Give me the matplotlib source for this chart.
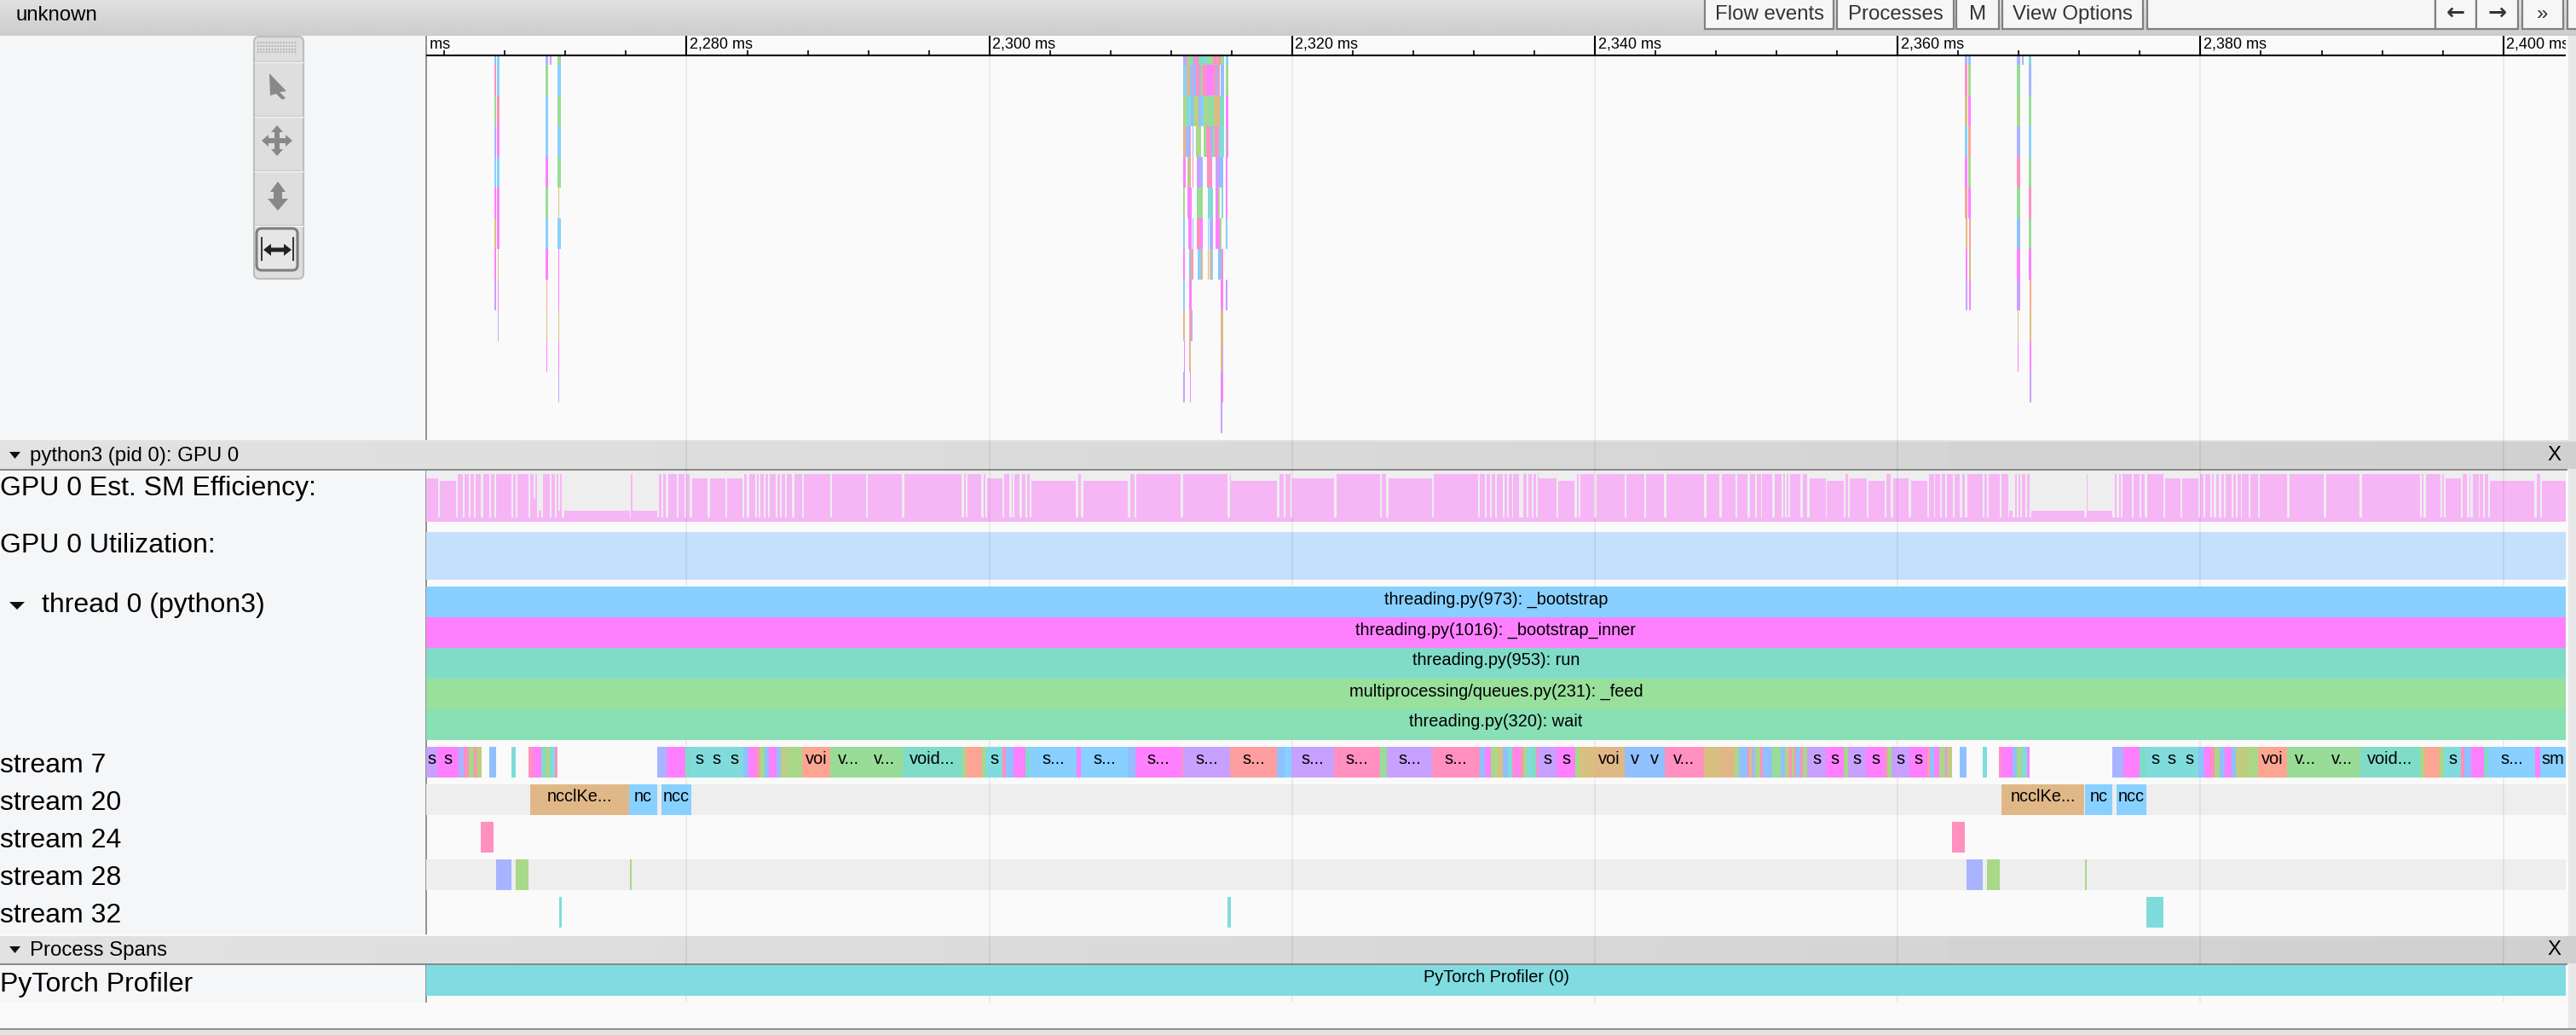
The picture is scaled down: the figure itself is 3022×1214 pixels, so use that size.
import numpy as np
import matplotlib
matplotlib.use('Agg')
import matplotlib.pyplot as plt
from matplotlib.patches import Rectangle, Polygon, FancyBboxPatch

plt.rcParams['font.family'] = ['Liberation Sans', 'DejaVu Sans']

# Time window shown, ms
t_min = 2262.80
t_max = 2404.13
grid_times = [2280, 2300, 2320, 2340, 2360, 2380, 2400]
ruler_times = [2260, 2280, 2300, 2320, 2340, 2360, 2380, 2400]
ruler_labels = ['2,260 ms', '2,280 ms', '2,300 ms', '2,320 ms', '2,340 ms', '2,360 ms', '2,380 ms', '2,400 ms']

palette = {'p': '#c8a0ff', 'm': '#ff80ff', 'b': '#88d0ff', 'l': '#90c0ff', 'v': '#a8b4ff',
           't': '#80dcdc', 'q': '#80dcc8', 'g': '#98dc98', 'y': '#a8d888', 'k': '#d8c080',
           'n': '#e0b888', 'r': '#ff90c0', 's': '#fca592', 'o': '#ff9ea0', 'h': '#c0cc80',
           'd': '#88e0b4', 'e': '#98e09c', 'z': '#80dce0'}

# GPU 0 Est. SM Efficiency
eff_start = [2262.80, 2263.70, 2264.90, 2265.35, 2265.73, 2266.07, 2266.55, 2267.08, 2267.40, 2268.54, 2268.84,
             2269.67, 2269.89, 2270.01, 2270.23, 2270.53, 2271.08, 2271.41, 2271.53, 2271.64, 2271.90, 2276.31,
             2276.44, 2278.19, 2278.45, 2278.79, 2279.47, 2279.99, 2280.35, 2281.53, 2282.68, 2283.80, 2284.12,
             2284.63, 2284.89, 2285.21, 2285.49, 2286.00, 2286.28, 2286.60, 2287.11, 2287.74, 2289.62, 2291.99,
             2294.36, 2298.31, 2298.56, 2299.60, 2299.85, 2301.00, 2301.47, 2301.65, 2302.15, 2302.51, 2302.80,
             2305.89, 2306.21, 2309.30, 2309.69, 2312.78, 2315.87, 2315.98, 2319.17, 2319.57, 2320.00, 2322.94,
             2325.92, 2326.35, 2329.37, 2332.42, 2332.85, 2333.21, 2333.54, 2334.04, 2334.33, 2334.61, 2335.26,
             2335.58, 2335.94, 2336.23, 2336.30, 2337.56, 2338.81, 2339.06, 2340.11, 2342.08, 2343.37, 2344.70,
             2347.37, 2348.36, 2349.39, 2350.23, 2350.71, 2351.04, 2351.85, 2352.44, 2352.69, 2352.91, 2353.72,
             2354.16, 2355.34, 2356.55, 2356.84, 2358.05, 2359.26, 2359.70, 2360.88, 2362.09, 2362.49, 2362.94,
             2363.27, 2363.74, 2364.26, 2364.59, 2365.73, 2366.02, 2366.83, 2367.38, 2367.74, 2367.96, 2368.22,
             2368.52, 2368.81, 2372.48, 2372.55, 2374.32, 2374.61, 2374.87, 2375.60, 2376.11, 2376.48, 2377.66,
             2378.79, 2379.97, 2380.34, 2380.78, 2381.07, 2381.36, 2381.66, 2382.17, 2382.43, 2382.76, 2383.27,
             2383.93, 2385.88, 2388.30, 2390.65, 2394.62, 2394.87, 2395.97, 2396.19, 2397.33, 2397.74, 2397.99,
             2398.47, 2398.80, 2399.13, 2402.21, 2402.58]
eff_end = [2263.57, 2264.79, 2265.24, 2265.62, 2265.95, 2266.42, 2266.97, 2267.29, 2268.43, 2268.71, 2269.54,
           2269.89, 2270.01, 2270.12, 2270.40, 2270.96, 2271.30, 2271.53, 2271.64, 2271.75, 2276.24, 2276.44,
           2278.08, 2278.34, 2278.64, 2279.35, 2279.86, 2280.22, 2281.40, 2282.54, 2283.69, 2283.97, 2284.52,
           2284.78, 2285.10, 2285.38, 2285.89, 2286.17, 2286.49, 2286.97, 2287.63, 2289.47, 2291.84, 2294.22,
           2298.17, 2298.45, 2299.46, 2299.75, 2300.86, 2301.29, 2301.54, 2302.01, 2302.37, 2302.66, 2305.71,
           2306.07, 2309.15, 2309.59, 2312.64, 2315.73, 2315.98, 2319.00, 2319.42, 2319.89, 2322.76, 2325.78,
           2326.21, 2329.23, 2332.28, 2332.71, 2333.07, 2333.43, 2333.89, 2334.22, 2334.51, 2334.97, 2335.48,
           2335.83, 2336.12, 2336.30, 2337.45, 2338.67, 2338.92, 2339.96, 2341.97, 2343.27, 2344.56, 2347.18,
           2348.21, 2349.28, 2350.09, 2350.56, 2350.97, 2351.70, 2352.33, 2352.58, 2352.80, 2353.57, 2354.01,
           2355.23, 2356.44, 2356.73, 2357.94, 2359.15, 2359.56, 2360.73, 2361.94, 2362.38, 2362.79, 2363.16,
           2363.63, 2364.11, 2364.44, 2365.62, 2365.91, 2366.72, 2367.30, 2367.56, 2367.85, 2368.11, 2368.41,
           2368.70, 2372.33, 2372.55, 2374.17, 2374.46, 2374.76, 2375.49, 2375.97, 2376.33, 2377.55, 2378.68,
           2379.86, 2380.19, 2380.67, 2380.89, 2381.22, 2381.55, 2382.06, 2382.32, 2382.65, 2383.16, 2383.82,
           2385.73, 2388.16, 2390.50, 2394.51, 2394.73, 2395.83, 2396.08, 2397.22, 2397.62, 2397.85, 2398.36,
           2398.65, 2399.02, 2402.07, 2402.44, 2404.16]
eff_val = [.91, .856, 1, 1, 1, 1, 1, 1, 1, 1, 1,
           1, .48, 1, .23, 1, 1, 1, .23, 1, .23, 1,
           .23, 1, 1, 1, 1, 1, .91, .91, .91, 1, 1,
           1, 1, 1, 1, 1, 1, 1, 1, 1, 1, 1,
           1, 1, 1, 1, .91, 1, 1, 1, 1, 1, .856,
           1, .856, 1, 1, 1, 1, .856, 1, 1, .91, 1,
           1, .91, 1, 1, 1, 1, 1, 1, 1, 1, 1,
           1, 1, 1, .91, .856, 1, 1, 1, 1, 1, 1,
           1, 1, 1, 1, 1, 1, 1, 1, 1, 1, 1,
           .91, .856, 1, .91, .856, 1, .91, .856, 1, 1, 1,
           1, 1, 1, 1, 1, 1, 1, .23, 1, 1, 1,
           1, .23, 1, .23, 1, 1, 1, 1, 1, 1, .91,
           .91, 1, 1, 1, 1, 1, 1, 1, 1, 1, 1,
           1, 1, 1, 1, 1, 1, 1, .91, 1, 1, 1,
           1, 1, .856, 1, .856]

# thread 0 (python3) call stack
thread_names = ['threading.py(973): _bootstrap', 'threading.py(1016): _bootstrap_inner', 'threading.py(953): run',
                'multiprocessing/queues.py(231): _feed', 'threading.py(320): wait']
thread_kinds = 'bmqed'

# stream 7: slice edges, '.' is an empty stretch
s7_edges = [2262.80, 2263.55, 2264.92, 2265.28, 2265.60, 2265.96, 2266.10, 2266.46, 2266.97, 2267.40, 2268.44, 2268.72,
            2269.55, 2269.87, 2270.41, 2270.66, 2270.99, 2271.31, 2271.45, 2278.06, 2278.67, 2279.89, 2280.25, 2281.40,
            2282.51, 2283.77, 2284.09, 2284.52, 2284.81, 2285.13, 2285.46, 2285.92, 2286.21, 2286.61, 2287.00, 2287.65,
            2289.51, 2291.88, 2294.25, 2298.20, 2298.45, 2299.50, 2299.75, 2300.86, 2301.08, 2301.58, 2302.01, 2302.37,
            2302.69, 2305.74, 2306.07, 2309.16, 2309.62, 2312.67, 2312.82, 2315.91, 2319.00, 2319.50, 2319.93, 2322.76,
            2325.82, 2326.25, 2329.23, 2332.39, 2332.75, 2333.10, 2333.57, 2333.89, 2334.25, 2334.54, 2334.68, 2334.97,
            2335.26, 2335.51, 2335.80, 2336.12, 2336.23, 2337.48, 2338.71, 2338.96, 2339.96, 2341.97, 2343.30, 2344.59,
            2347.18, 2348.24, 2349.25, 2349.51, 2350.08, 2350.17, 2350.36, 2350.60, 2350.94, 2351.09, 2351.69, 2352.29,
            2352.55, 2352.70, 2352.83, 2352.98, 2353.15, 2353.30, 2353.59, 2353.75, 2354.04, 2355.24, 2356.46, 2356.72,
            2357.92, 2359.16, 2359.29, 2359.59, 2360.75, 2361.97, 2362.12, 2362.43, 2362.76, 2363.12, 2363.25, 2363.59,
            2364.11, 2364.55, 2365.62, 2365.91, 2366.68, 2366.83, 2367.60, 2367.85, 2368.22, 2368.55, 2368.74, 2374.17,
            2374.90, 2375.97, 2376.44, 2377.55, 2378.65, 2379.86, 2380.23, 2380.67, 2380.92, 2381.25, 2381.58, 2382.06,
            2382.32, 2382.76, 2383.16, 2383.79, 2385.73, 2388.16, 2390.54, 2394.51, 2394.76, 2395.79, 2396.08, 2397.22,
            2397.44, 2397.88, 2398.40, 2398.73, 2399.02, 2402.10, 2402.44, 2404.16]
s7_kinds = ('pmvryrh.l.t.'
            'rmqytr.vmqtt'
            'tlmrylmlhyys'
            'ggqysyt' 'rlmmq'
            'bmblmrpolbpr'
            'gprlmykltrmr'
            'ytqrpmyknllr'
            'knylrkvyrlgl'
            'ykryrlrypmyp'
            'mrypmolmymh.'
            'l.t.rmlytm.v'
            'mqtttlmrylml'
            'hhysggqysytr'
            'lmmqbmb')
s7_label_start = [2262.80, 2263.55, 2280.25, 2281.40, 2282.51, 2287.65, 2289.51, 2291.88, 2294.25, 2299.75, 2302.69,
                  2306.07, 2309.62, 2312.82, 2315.91, 2319.93, 2322.76, 2326.25, 2329.23, 2336.23, 2337.48, 2339.96,
                  2341.97, 2343.30, 2344.59, 2354.04, 2355.24, 2356.72, 2357.92, 2359.59, 2360.75, 2376.44, 2377.55,
                  2378.65, 2383.79, 2385.73, 2388.16, 2390.54, 2396.08, 2399.02, 2402.44]
s7_label_text = ['s', 's', 's', 's', 's', 'voi', 'v...', 'v...', 'void...', 's', 's...',
                 's...', 's...', 's...', 's...', 's...', 's...', 's...', 's...', 's', 's', 'voi',
                 'v', 'v', 'v...', 's', 's', 's', 's', 's', 's', 's', 's',
                 's', 'voi', 'v...', 'v...', 'void...', 's', 's...', 'sm']

# streams 20, 24, 28, 32
s20_start = [2269.66, 2276.19, 2278.35, 2366.83, 2372.37, 2374.46]
s20_end = [2276.19, 2278.06, 2280.32, 2372.33, 2374.17, 2376.44]
s20_kinds = 'nbbnbb'
s20_text = ['ncclKe...', 'nc', 'ncc', 'ncclKe...', 'nc', 'ncc']
s24_start = [2266.43, 2363.60]
s24_end = [2267.25, 2364.44]
s24_kinds = 'rr'
s28_start = [2267.40, 2268.72, 2276.26, 2364.55, 2365.87, 2372.37]
s28_end = [2268.44, 2269.55, 2276.37, 2365.62, 2366.72, 2372.48]
s28_kinds = 'vyyvyy'
s32_start = [2271.60, 2315.73, 2376.41]
s32_end = [2271.74, 2315.94, 2377.55]
s32_kinds = 'ttt'

stream_names = ['stream 7', 'stream 20', 'stream 24', 'stream 28', 'stream 32']

# Flame chart at the top: columns of one width, one letter per depth, '.' skips a depth
col_start = [2267.29, 2267.50, 2270.66, 2270.95, 2271.45, 2267.32, 2267.54, 2270.72, 2271.50,
             2364.45, 2364.66, 2367.85, 2368.20, 2368.68, 2364.50, 2364.72, 2367.90, 2368.72]
col_end = [2267.43, 2267.65, 2270.88, 2271.10, 2271.67, 2267.39, 2267.60, 2270.80, 2271.58,
           2364.63, 2364.84, 2368.09, 2368.32, 2368.85, 2364.60, 2364.80, 2368.00, 2368.80]
col_kinds = ['lrgvbm', 'bbrmbmm', 'vgbbmgbm', 'p', 'gbgbg.b',
             '......kmp', '.......kmp', '........skm', '.....k.mmkmp',
             'vrkbmo', 'lymsym', 'vgyvrglmp', 'v', 'tvgbgrgm',
             '......nmp', '......onm', '.........km', '........skmp']

# Dense burst in the middle of the flame chart, depth by depth
mid_depth = [0] * 13 + [1] * 15 + [2] * 14 + [3] * 13 + [4] * 10 + [5] * 10 + [6] * 11 + [7] * 11 + [8] * 4 + [9] * 4 \
    + [10] * 4 + [11] * 4 + [12]
mid_start = [2312.80, 2313.03, 2313.10, 2313.44, 2313.55, 2313.81, 2314.23, 2314.38, 2314.75, 2314.98, 2315.09, 2315.28, 2315.63,
             2312.80, 2313.03, 2313.25, 2313.40, 2313.48, 2313.66, 2313.85, 2314.00, 2314.08, 2314.34, 2314.75, 2314.94, 2315.05, 2315.28, 2315.63,
             2312.80, 2313.03, 2313.33, 2313.48, 2313.70, 2313.81, 2314.00, 2314.15, 2314.38, 2314.75, 2314.83, 2315.02, 2315.24, 2315.63,
             2312.80, 2312.95, 2313.25, 2313.40, 2313.66, 2314.15, 2314.34, 2314.60, 2314.75, 2314.86, 2315.17, 2315.63, 2315.70,
             2312.82, 2313.08, 2313.18, 2313.42, 2313.70, 2313.96, 2314.38, 2314.94, 2315.20, 2315.62,
             2312.82, 2313.08, 2313.70, 2314.04, 2314.41, 2314.51, 2314.96, 2315.13, 2315.32, 2315.62,
             2312.82, 2313.14, 2313.42, 2313.70, 2313.93, 2314.41, 2314.56, 2314.66, 2314.94, 2315.24, 2315.62,
             2312.82, 2313.18, 2313.33, 2313.42, 2313.76, 2313.98, 2314.41, 2314.56, 2314.68, 2315.11, 2315.32,
             2312.82, 2313.18, 2315.30, 2315.63,
             2312.82, 2313.18, 2313.33, 2315.30,
             2312.84, 2313.19, 2315.30, 2315.37,
             2312.82, 2313.23, 2315.30, 2315.35,
             2315.30]
mid_end = [2313.03, 2313.10, 2313.44, 2313.55, 2313.81, 2314.23, 2314.38, 2314.75, 2314.98, 2315.09, 2315.28, 2315.50, 2315.78,
           2313.03, 2313.25, 2313.40, 2313.48, 2313.66, 2313.85, 2314.00, 2314.08, 2314.34, 2314.75, 2314.94, 2315.05, 2315.24, 2315.50, 2315.78,
           2313.03, 2313.33, 2313.48, 2313.70, 2313.81, 2314.00, 2314.15, 2314.38, 2314.75, 2314.83, 2315.02, 2315.24, 2315.50, 2315.78,
           2312.95, 2313.25, 2313.33, 2313.48, 2314.00, 2314.34, 2314.60, 2314.75, 2314.86, 2315.17, 2315.50, 2315.70, 2315.78,
           2312.97, 2313.18, 2313.33, 2313.48, 2313.96, 2314.08, 2314.71, 2315.20, 2315.47, 2315.73,
           2312.93, 2313.36, 2314.04, 2314.08, 2314.51, 2314.75, 2315.13, 2315.24, 2315.47, 2315.73,
           2312.93, 2313.38, 2313.48, 2313.93, 2314.08, 2314.51, 2314.64, 2314.75, 2315.20, 2315.35, 2315.73,
           2312.91, 2313.33, 2313.40, 2313.48, 2313.98, 2314.08, 2314.51, 2314.64, 2314.75, 2315.32, 2315.45,
           2312.91, 2313.36, 2315.43, 2315.71,
           2312.91, 2313.33, 2313.40, 2315.45,
           2312.89, 2313.29, 2315.37, 2315.47,
           2312.89, 2313.29, 2315.35, 2315.45,
           2315.37]
mid_kinds = ('pnglrqtgrsrgb'
             'bnlrlrlkrmrlrly'
             'ytlyklbygtknqm'
             'nvrlygrvgrtgm'
             'mysrplrplm'
             'ymgybqmytm'
             'bmlrmblpmyb'
             'mlsrbnnnblr'
             'bmmp'
             'nspn'
             'mnkp'
             'pmpm'
             'p')


fig = plt.figure(figsize=(30.22, 12.14), dpi=100, facecolor='#fafafa')

# Chrome axes, in picture pixels
ui = fig.add_axes([0, 0, 1, 1], zorder=1)
ui.axis('off')


def hgrad(y0, y1, a, b):
    ui.imshow(np.linspace(a, b, 256).reshape(1, -1), cmap='gray', vmin=0, vmax=1, aspect='auto',
              extent=(0, 3022, y1, y0), interpolation='bilinear', zorder=1)


def label(x, y, s, size=23.04, **kw):
    ui.text(x, y, s, fontsize=size, va='center', ha=kw.pop('ha', 'left'), color=kw.pop('color', '#000000'), zorder=6, **kw)


# top bar
ui.imshow(np.linspace(0.88, 0.80, 64).reshape(-1, 1), cmap='gray', vmin=0, vmax=1, aspect='auto',
          extent=(0, 3022, 42, 0), zorder=1)
# left panels
for y0, y1 in [(42, 516), (552, 1096), (1132, 1176)]:
    ui.add_patch(Rectangle((0, y0), 499, y1 - y0, fc='#f5f6f8', ec='none', zorder=1))
    ui.vlines(499.5, y0, y1, color='#8a8a8a', lw=1.3, zorder=2)
ui.add_patch(Rectangle((0, 516), 3022, 2, fc='#e4e4e4', ec='none', zorder=1))
ui.add_patch(Rectangle((3013, 42), 9, 1172, fc='#e8e8e8', ec='none', zorder=1))
hgrad(518, 550, 0.885, 0.815)
hgrad(1098, 1130, 0.885, 0.815)
ui.add_patch(Rectangle((0, 550), 3012, 2, fc='#8a8a8a', ec='none', zorder=2))
ui.add_patch(Rectangle((0, 1130), 3012, 2, fc='#8a8a8a', ec='none', zorder=2))
ui.add_patch(Rectangle((0, 1206), 3022, 2, fc='#909090', ec='none', zorder=2))
ui.add_patch(Rectangle((0, 1208), 3022, 6, fc='#e2e2e2', ec='none', zorder=2))

# buttons
btn_x0 = [2000, 2155, 2295, 2349, 2519, 2857, 2905, 2959, 3012]
btn_x1 = [2151, 2292, 2345, 2514, 2857, 2905, 2954, 3007, 3030]
btn_text = ['Flow events', 'Processes', 'M', 'View Options', '', '\u2190', '\u2192', '\u00bb', '']
for x0, x1, s in zip(btn_x0, btn_x1, btn_text):
    ui.add_patch(Rectangle((x0, -4), x1 - x0, 38, fc='#f6f6f6', ec='#808080', lw=1.6, zorder=3))
    if s in ('\u2190', '\u2192'):
        label((x0 + x1) / 2, 16, s, size=19, ha='center', color='#333333', family='DejaVu Sans', fontweight='bold')
    elif s:
        label((x0 + x1) / 2, 17, s, size=17.3, ha='center', color='#333333')

label(18, 17.5, 'unknown', size=17.3)

# left labels
label(0, 573.5, 'GPU 0 Est. SM Efficiency:')
label(0, 640, 'GPU 0 Utilization:')
label(49, 710, 'thread 0 (python3)')
for i, name in enumerate(stream_names):
    label(0, 898 + 44 * i, name)
label(0, 1155, 'PyTorch Profiler')
label(35, 534.5, 'python3 (pid 0): GPU 0', size=17.3)
label(35, 1114.5, 'Process Spans', size=17.3)
label(2996, 534.5, 'X', size=17.3, ha='center')
label(2996, 1114.5, 'X', size=17.3, ha='center')
for pts in [[(11, 530), (24, 530), (17.5, 538)], [(11, 1110), (24, 1110), (17.5, 1118)], [(11, 706), (29, 706), (20, 715)]]:
    ui.add_patch(Polygon(pts, fc='#111111', ec='none', zorder=5))

# tool palette
ui.add_patch(FancyBboxPatch((298, 43), 58, 284, boxstyle='round,pad=0,rounding_size=6', fc='#dedede', ec='#bdbdbd', lw=1.5, zorder=3))
for y in [71.5, 135.5, 199.5, 263.5]:
    ui.hlines(y, 298, 356, color='#c2c2c2', lw=1, zorder=4)
    ui.hlines(y + 1.5, 298, 356, color='#f6f6f6', lw=1, zorder=4)
for y in [50, 54, 58, 61]:
    ui.hlines(y, 302, 349, color='#aaaaaa', lw=1.2, linestyles=(0, (1, 1)), zorder=4)
ui.add_patch(Polygon([(316, 86), (336, 107), (328, 108), (335, 115), (331, 117), (324, 110), (317, 112)],
                     fc='#888888', ec='none', zorder=4))


def icon(pts, c):
    ui.add_patch(Polygon(pts, fc=c, ec='none', zorder=5))


# four way arrow
cx, cy = 325, 165
for sx, sy in [(1, 0), (-1, 0), (0, 1), (0, -1)]:
    px, py = -sy, sx
    arm = [(0, -3), (10, -3), (10, -7), (18, 0), (10, 7), (10, 3), (0, 3)]
    icon([(cx + a * sx + b * px, cy + a * sy + b * py) for a, b in arm], '#888888')
# up and down arrow
icon([(326, 213), (335, 225), (331, 225), (331, 233), (338, 233), (326, 247), (314, 233), (321, 233), (321, 225), (317, 225)], '#888888')
ui.add_patch(FancyBboxPatch((301, 268), 48, 49, boxstyle='round,pad=0,rounding_size=6', fc='#e6e6e6', ec='#7f7f7f', lw=2.2, zorder=4))
ui.vlines([307, 344], 278, 306, color='#333333', lw=1.4, zorder=5)
icon([(309, 293), (318, 286), (318, 290.5), (333, 290.5), (333, 286), (342, 293), (333, 300), (333, 295.5), (318, 295.5), (318, 300)], '#222222')

ui.set_xlim(0, 3022)
ui.set_ylim(1214, 0)

# Timeline axes, x in ms, y in picture pixels
ax = fig.add_axes([500 / 3022, 0, 2510 / 3022, 1], zorder=2)
ax.axis('off')
ax.set_xlim(t_min, t_max)
ax.set_ylim(1214, 0)


def slices(starts, ends, kinds, y0, y1, zorder=4):
    starts = np.array(starts)
    ends = np.array(ends)
    ax.bar(starts, y1 - y0, ends - starts, bottom=y0, align='edge', linewidth=0, zorder=zorder,
           color=[palette[k] for k in kinds])


def slice_text(t, y, s):
    ax.text(t, y, s, fontsize=14.4, ha='center', va='center', clip_on=True, zorder=5)


# ruler
ax.hlines(65, t_min, t_max, color='black', lw=1.5, zorder=6)
ax.vlines(ruler_times, 42, 65, color='black', lw=1.5, zorder=6)
minor = [t for t in np.arange(2264, 2404, 4) if t % 20 != 0]
ax.vlines(minor, 59, 65, color='black', lw=1.2, zorder=6)
for t, s in zip(ruler_times, ruler_labels):
    ax.text(t + 0.2, 52, s, fontsize=13, ha='left', va='center', clip_on=True, zorder=6)

# bands and counters
ax.axhspan(552, 607.7, color='#eeeeee', lw=0, zorder=1)
ax.axhspan(920, 956, color='#eeeeee', lw=0, zorder=1)
ax.axhspan(1008, 1044, color='#eeeeee', lw=0, zorder=1)
ax.axhspan(607.4, 611.7, color='#f6b6f6', lw=0, zorder=2)
eff_start = np.array(eff_start)
ax.bar(eff_start, -55.7 * np.array(eff_val), np.array(eff_end) - eff_start, bottom=611.7, align='edge',
       color='#f6b6f6', linewidth=0, zorder=2)
ax.axhspan(624, 680, color='#c4e0fc', lw=0, zorder=2)

# grid
ax.vlines(grid_times, 66, 518, color='#000000', alpha=0.07, lw=1.2, zorder=3)
ax.vlines(grid_times, 518, 1176, color='#000000', alpha=0.07, lw=1.2, zorder=3)

# flame chart
row_y0 = [66] + [76 + 36 * i for i in range(12)]
row_y1 = [76] + [112 + 36 * i for i in range(12)]
for a, b, kinds in zip(col_start, col_end, col_kinds):
    for depth, k in enumerate(kinds):
        if k != '.':
            slices([a], [b], k, row_y0[depth], row_y1[depth])
for d, a, b, k in zip(mid_depth, mid_start, mid_end, mid_kinds):
    slices([a], [b], k, row_y0[d], row_y1[d])

# thread rows
for i, (name, k) in enumerate(zip(thread_names, thread_kinds)):
    y0 = 688 + 36 * i
    slices([t_min], [t_max], k, y0, y0 + 36)
    slice_text((t_min + t_max) / 2, y0 + 15, name)

# stream 7
for a, b, k in zip(s7_edges[:-1], s7_edges[1:], s7_kinds):
    if k != '.':
        slices([a], [b], k, 876, 912)
for t, s in zip(s7_label_start, s7_label_text):
    i = s7_edges.index(t)
    slice_text((s7_edges[i] + s7_edges[i + 1]) / 2, 891, s)

# other streams
slices(s20_start, s20_end, s20_kinds, 920, 956)
for a, b, s in zip(s20_start, s20_end, s20_text):
    slice_text((a + b) / 2, 935, s)
slices(s24_start, s24_end, s24_kinds, 964, 1000)
slices(s28_start, s28_end, s28_kinds, 1008, 1044)
slices(s32_start, s32_end, s32_kinds, 1052, 1088)

# process span
slices([t_min], [t_max], 'z', 1132, 1168)
slice_text((t_min + t_max) / 2, 1147, 'PyTorch Profiler (0)')

fig.savefig('out.png', dpi=100, facecolor=fig.get_facecolor())
